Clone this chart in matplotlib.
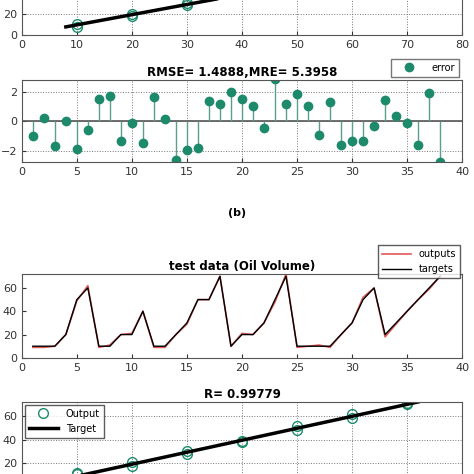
import numpy as np
import matplotlib
matplotlib.use("Agg")
import matplotlib.pyplot as plt

teal = '#1d8a6c'

# top regression panel (partly visible)
reg1_x = [10, 10, 20, 20, 30, 30, 40, 40, 50, 50, 60, 60, 70, 70]
reg1_y = [8, 11, 18, 20, 29, 31, 39, 41, 49, 51, 59, 61, 69, 71]
reg1_line_x = [8, 72]
reg1_line_y = [7.8, 70]

# error stem panel
err_idx = list(range(1, 39))
err_val = [-1, 0.25, -1.65, 0.05, -1.85, -0.55, 1.55, 1.7, -1.3, -0.1, -1.45, 1.65, 0.15,
           -2.6, -1.9, -1.8, 1.4, 1.15, 2.0, 1.55, 1.05, -0.45, 2.85, 1.2, 1.85, 1.05, -0.9,
           1.3, -1.6, -1.35, -1.3, -0.3, 1.45, 0.35, -0.1, -1.6, 1.95, -2.75]

# test data panel
test_idx = list(range(1, 39))
targets = [10, 10, 10, 20, 50, 60, 10, 10, 20, 20, 40, 10, 10, 20, 30, 50, 50, 70, 10, 20,
           20, 30, 50, 70, 10, 10, 10, 10, 20, 30, 50, 60, 20, 30, 40, 50, 60, 70]
outputs = [9, 9, 10, 20, 49, 62, 9, 11, 20, 21, 40, 9, 9, 20, 29, 50, 50, 70, 10, 21,
           20, 30, 48, 72, 9, 10, 11, 9, 20, 30, 52, 60, 18, 29, 40, 50, 59, 70]

# bottom regression panel
reg2_x = [5, 5, 10, 10, 15, 15, 20, 20, 25, 25, 30, 30, 35, 35]
reg2_y = [12, 11, 18, 21, 28, 30, 38, 39, 48, 52, 58, 62, 70, 71]
reg2_line_x = [5, 36]
reg2_line_y = [9, 72]

fig = plt.figure(figsize=(4.74, 4.74), dpi=100)
L, W = 0.046, 0.929


def style(ax):
    ax.tick_params(labelsize=8, length=3, direction='in', colors='#333333')
    for s in ax.spines.values():
        s.set_color('#555555')
    ax.grid(True, linestyle=':', color='#777777', linewidth=0.7)


ax1 = fig.add_axes([L, 0.926, W, 0.177])
ax1.plot(reg1_x, reg1_y, 'o', mfc='none', mec=teal, ms=7)
ax1.plot(reg1_line_x, reg1_line_y, 'k-', lw=2.5)
ax1.set_xlim(0, 80)
ax1.set_ylim(0, 80)
ax1.set_yticks([0, 20, 40, 60, 80])
style(ax1)

ax2 = fig.add_axes([L, 0.658, W, 0.173])
ax2.axhline(0, color='#555555', lw=1.2)
ml, sl, bl = ax2.stem(err_idx, err_val, basefmt='none', label='error')
plt.setp(sl, color='#5a9e8c', linewidth=1)
plt.setp(ml, color=teal, markersize=6)
ax2.set_xlim(0, 40)
ax2.set_ylim(-2.75, 2.8)
ax2.set_yticks([-2, 0, 2])
ax2.set_title('RMSE= 1.4888,MRE= 5.3958', fontsize=8.5, fontweight='bold', pad=3)
style(ax2)
ax2.legend(loc='lower right', bbox_to_anchor=(1.0, 1.0), fontsize=7, frameon=True,
           fancybox=False, edgecolor='#555555', borderaxespad=0.3, handlelength=3)

fig.text(0.5, 1 - 213 / 474, '(b)', ha='center', va='center', fontsize=8, fontweight='bold')

ax3 = fig.add_axes([L, 0.245, W, 0.177])
ax3.plot(test_idx, outputs, color='#e05a5a', lw=1.2, label='outputs')
ax3.plot(test_idx, targets, color='black', lw=1, label='targets')
ax3.set_xlim(0, 40)
ax3.set_ylim(0, 72)
ax3.set_yticks([0, 20, 40, 60])
ax3.set_title('test data (Oil Volume)', fontsize=8.5, fontweight='bold', pad=3)
style(ax3)
ax3.grid(False)
ax3.legend(loc='lower right', bbox_to_anchor=(1.0, 0.93), fontsize=7, frameon=True,
           fancybox=False, edgecolor='#333333', borderaxespad=0.2, handlelength=3)

ax4 = fig.add_axes([L, -0.027, W, 0.179])
ax4.plot(reg2_x, reg2_y, 'o', mfc='none', mec=teal, ms=7, label='Output')
ax4.plot(reg2_line_x, reg2_line_y, 'k-', lw=2.5, label='Target')
ax4.set_xlim(0, 40)
ax4.set_ylim(0, 72)
ax4.set_yticks([0, 20, 40, 60])
ax4.set_title('R= 0.99779', fontsize=8.5, fontweight='bold', pad=3)
style(ax4)
ax4.legend(loc='upper left', fontsize=7, frameon=True, fancybox=False,
           edgecolor='#333333', borderaxespad=0.3, handlelength=3)

fig.savefig('out.png', dpi=100)
